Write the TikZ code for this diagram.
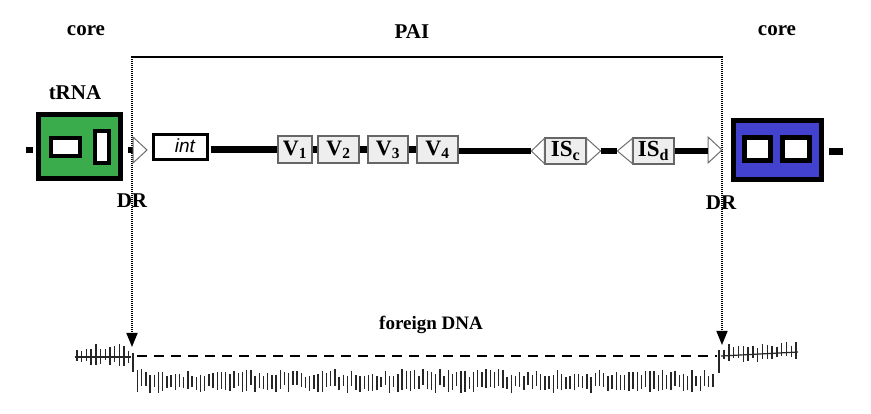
\documentclass[tikz,border=0pt]{standalone}
\usepackage{fontspec}
\setmainfont{Liberation Serif}
\newfontfamily\sansfam{Liberation Sans}
\usetikzlibrary{arrows.meta}
\definecolor{trnagreen}{RGB}{58,172,76}
\definecolor{coreblue}{RGB}{66,66,206}
\definecolor{vfill}{RGB}{238,238,238}
\definecolor{trigray}{RGB}{110,110,110}
\tikzset{
  lbl/.style={font=\fontsize{21}{24}\selectfont\bfseries, inner sep=0pt},
  thickbox/.style={draw=black, line width=5pt, inner sep=0pt},
  vbox/.style={draw=black!60, fill=vfill, line width=1.2pt, minimum height=27pt, inner sep=0pt,
    font=\fontsize{22}{24}\selectfont\bfseries},
  dnaline/.style={line width=6.5pt, black},
  tri/.style={draw=trigray, fill=white, line width=1pt, line join=miter},
  dotline/.style={line width=1.6pt, dash pattern=on 1pt off 1pt},
  tick/.style={line width=1.4pt, black!85},
  bracketline/.style={line width=2pt, black},
  dashline/.style={line width=2.4pt, dash pattern=on 10pt off 7pt},
  arrowtip/.style={-{Triangle[width=11pt,length=14pt]}},
}
\begin{document}
\begin{tikzpicture}[x=1pt,y=-1pt]
\useasboundingbox (0,0) rectangle (871,414);

% labels
\node[lbl] (coreL) at (86,31) {core};
\node[lbl] (trnaL) at (75,93) {tRNA};
\node[lbl] (pai) at (412,32) {PAI};
\node[lbl] (coreR) at (777,31) {core};
\node[lbl] (drL) at (132,201) {DR};
\node[lbl] (drR) at (721,203) {DR};
\node[lbl, font=\fontsize{19}{22}\selectfont\bfseries] (foreign) at (431,325) {foreign DNA};

% bracket
\coordinate (bl) at (132,57);
\coordinate (br) at (722,57);
\coordinate (tipl) at (132,347);
\coordinate (tipr) at (722,345);
\draw[bracketline] ([xshift=-0.8pt]bl) -- ([xshift=0.8pt]br);
\draw[dotline, arrowtip] (bl) -- (tipl);
\draw[dotline, arrowtip] (br) -- (tipr);

% tRNA box (green)
\node[thickbox, fill=trnagreen, minimum width=82pt, minimum height=64pt] (trna) at (79.5,146.5) {};
\node[draw=black, line width=4pt, fill=white, inner sep=0pt, minimum width=29pt, minimum height=18pt] (trnaA) at (65.5,147) {};
\node[draw=black, line width=4pt, fill=white, inner sep=0pt, minimum width=14pt, minimum height=32pt] (trnaB) at (102,147) {};

% core box (blue)
\node[thickbox, fill=coreblue, minimum width=88pt, minimum height=59pt] (core) at (777.5,150) {};
\node[draw=black, line width=5pt, fill=white, inner sep=0pt, minimum width=26pt, minimum height=23pt] (coreA) at (757.5,149) {};
\node[draw=black, line width=5pt, fill=white, inner sep=0pt, minimum width=27pt, minimum height=23pt] (coreB) at (796,149) {};

% stubs
\coordinate (ls) at (26,150);
\coordinate (rs) at (843,151.5);
\draw[dnaline] (ls) -- ([xshift=-3pt]trna.west |- ls);
\draw[dnaline] ([xshift=5pt]core.east |- rs) -- (rs);
\coordinate (drlbase) at (133,150);
\draw[dnaline] ([xshift=5pt]trna.east |- drlbase) -- ([xshift=3pt]drlbase);

% DR triangles
\draw[tri] (133,137) -- (147,150) -- (133,163) -- cycle;
\coordinate (drrbase) at (708,150);
\draw[tri] (708,137) -- (722,150) -- (708,163) -- cycle;

% int
\node[draw=black, line width=3pt, fill=white, inner sep=0pt, minimum width=54pt, minimum height=25pt] (int) at (180.5,147) {};
\node[inner sep=0pt, font=\sansfam\itshape\fontsize{19}{22}\selectfont] (intlbl) at (185,146) {int};

% V boxes
\node[vbox, minimum width=34pt] (v1) at (295,149.5) {V\textsubscript{1}};
\node[vbox, minimum width=41pt] (v2) at (338.5,149.5) {V\textsubscript{2}};
\node[vbox, minimum width=40pt] (v3) at (388,149.5) {V\textsubscript{3}};
\node[vbox, minimum width=41pt] (v4) at (437.5,149.5) {V\textsubscript{4}};

% IS boxes
\node[vbox, minimum width=41pt, minimum height=26pt, font=\fontsize{23}{25}\selectfont\bfseries] (isc) at (565.5,151) {IS\textsubscript{c}};
\node[vbox, minimum width=41pt, minimum height=26pt, font=\fontsize{23}{25}\selectfont\bfseries] (isd) at (653.5,151) {IS\textsubscript{d}};
\coordinate (iscl) at ([xshift=-13pt]isc.west);
\coordinate (iscr) at ([xshift=14pt]isc.east);
\coordinate (isdl) at ([xshift=-15pt]isd.west);
\draw[tri] ([yshift=-1pt]isc.north west) -- (iscl) -- ([yshift=1pt]isc.south west) -- cycle;
\draw[tri] ([yshift=-1pt]isc.north east) -- (iscr) -- ([yshift=1pt]isc.south east) -- cycle;
\draw[tri] ([yshift=-1pt]isd.north west) -- (isdl) -- ([yshift=1pt]isd.south west) -- cycle;

% main DNA line segments
\draw[dnaline] ([xshift=2pt]int.east |- v1.west) -- (v1.west);
\draw[dnaline] (v1.east) -- (v2.west);
\draw[dnaline] (v2.east) -- (v3.west);
\draw[dnaline] (v3.east) -- (v4.west);
\draw[dnaline] (v4.east |- iscl) -- (iscl);
\draw[dnaline] (iscr) -- (isdl);
\draw[dnaline] (isd.east) -- (drrbase |- isd.east);

% foreign DNA dashed line
\coordinate (fl) at (137,356);
\coordinate (fr) at (717,356);
\draw[dashline] (fl) -- (fr);

% trace: left host part
\pgfmathsetseed{4711}
\coordinate (hl0) at (75,357);
\coordinate (hl1) at (131,357);
\draw[line width=1.2pt, black!85] (hl0) -- (hl1);
\foreach \i in {0,...,11}{
  \pgfmathsetmacro\xx{77+\i*4.7}
  \pgfmathsetmacro\ta{344+7*rnd}
  \pgfmathsetmacro\bb{360+6*rnd}
  \draw[tick] (\xx,\ta) -- (\xx,\bb);
}
\draw[tick] (133,353) -- (133,372);

% trace: foreign part
\foreach \i in {0,...,137}{
  \pgfmathsetmacro\xx{137.5+\i*4.2}
  \pgfmathsetmacro\ta{369+8*rnd}
  \pgfmathsetmacro\bb{385+8*rnd}
  \draw[tick] (\xx,\ta) -- (\xx,\bb);
}

% trace: right host part
\draw[tick] (719,350) -- (719,373);
\coordinate (hr0) at (721,356);
\coordinate (hr1) at (798,352);
\draw[line width=1.2pt, black!85] (hr0) -- (hr1);
\foreach \i in {0,...,15}{
  \pgfmathsetmacro\xx{724+\i*4.8}
  \pgfmathsetmacro\mid{356-\i*0.25}
  \pgfmathsetmacro\ta{\mid-12+6*rnd}
  \pgfmathsetmacro\bb{\mid+2+6*rnd}
  \draw[tick] (\xx,\ta) -- (\xx,\bb);
}
\end{tikzpicture}
\end{document}
